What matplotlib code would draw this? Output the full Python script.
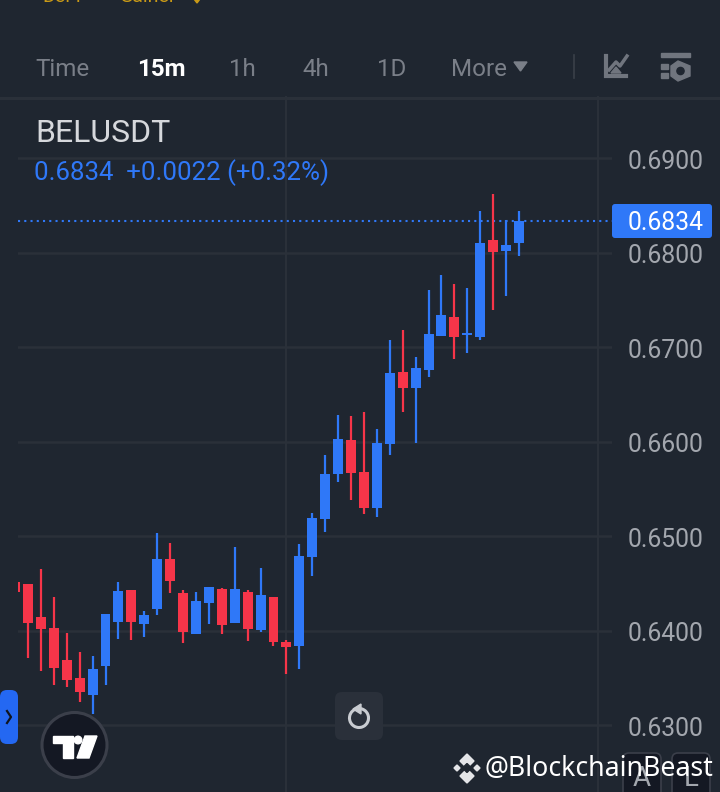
import matplotlib
matplotlib.use("Agg")
import matplotlib.pyplot as plt
from matplotlib.patches import Circle, FancyBboxPatch, Polygon, Rectangle, Arc
from matplotlib.transforms import ScaledTranslation

# chart data (price); first candle is cut by the left edge
opens = [0.64515, 0.64494, 0.64145, 0.64029, 0.63690, 0.63500, 0.63320, 0.63627, 0.64092, 0.64431,
         0.64071, 0.64230, 0.64759, 0.64399, 0.63965, 0.64293, 0.64441, 0.64082, 0.64410, 0.64007,
         0.64357, 0.63881, 0.63838, 0.64780, 0.65182, 0.65658, 0.66018, 0.65679, 0.65298, 0.65976,
         0.66738, 0.66568, 0.66759, 0.67119, 0.67320, 0.67129, 0.67108, 0.68134, 0.68018, 0.68103]
closes = [0.64410, 0.64082, 0.64018, 0.63605, 0.63478, 0.63351, 0.63595, 0.64177, 0.64420, 0.64092,
          0.64166, 0.64759, 0.64526, 0.63986, 0.64314, 0.64462, 0.64060, 0.64441, 0.64018, 0.64378,
          0.63881, 0.63828, 0.64790, 0.65193, 0.65658, 0.66029, 0.65669, 0.65298, 0.65986, 0.66727,
          0.66568, 0.66780, 0.67140, 0.67341, 0.67108, 0.67150, 0.68103, 0.68007, 0.68082, 0.68335]
highs = [0.64515, 0.64494, 0.64653, 0.64357, 0.63976, 0.63775, 0.63732, 0.64177, 0.64515, 0.64431,
         0.64208, 0.65034, 0.64926, 0.64431, 0.64410, 0.64462, 0.64452, 0.64886, 0.64431, 0.64664,
         0.64357, 0.63902, 0.64918, 0.65246, 0.65859, 0.66283, 0.66272, 0.66314, 0.66134, 0.67076,
         0.67182, 0.66896, 0.67605, 0.67764, 0.67669, 0.67627, 0.68441, 0.68621, 0.68346, 0.68441]
lows = [0.64410, 0.63711, 0.63574, 0.63425, 0.63404, 0.63246, 0.63119, 0.63425, 0.63912, 0.63902,
        0.63933, 0.64166, 0.64399, 0.63870, 0.63965, 0.64071, 0.63969, 0.64082, 0.63891, 0.63986,
        0.63838, 0.63542, 0.63595, 0.64579, 0.65045, 0.65574, 0.65383, 0.65235, 0.65203, 0.65859,
        0.66314, 0.65986, 0.66685, 0.67119, 0.66875, 0.66939, 0.67076, 0.67394, 0.67542, 0.67965]
price_ticks = [0.63, 0.64, 0.65, 0.66, 0.67, 0.68, 0.69]
last_price = 0.6834
timeframes = ["Time", "15m", "1h", "4h", "1D", "More"]
symbol = "BELUSDT"
quote_line = "0.6834  +0.0022 (+0.32%)"
handle = "@BlockchainBeast"

BG = "#1f2630"
GRID = "#2a3039"
BLUE = "#2f78f8"
RED = "#f63549"
GREY = "#a3a7ae"
DIM = "#7a7f88"
W, H = 720, 792

plt.rcParams["font.family"] = ["Roboto", "DejaVu Sans"]
fig = plt.figure(figsize=(7.2, 7.92), dpi=100, facecolor=BG)


def box(x0, y0, x1, y1):
    return [x0 / W, 1 - y1 / H, (x1 - x0) / W, (y1 - y0) / H]


# pixel-space layer below the candles for the panel lines
back = fig.add_axes([0, 0, 1, 1], facecolor="none", zorder=0)
back.set_xlim(0, W)
back.set_ylim(H, 0)
back.axis("off")
back.plot([0, W], [97.5, 97.5], color=GRID, lw=2.2)
back.plot([286, 286], [97, 792], color=GRID, lw=1.5)
back.plot([597.5, 597.5], [97, 792], color=GRID, lw=1.5)

ax = fig.add_axes(box(18, 97, 612, 792), facecolor="none", zorder=1)
ax.set_xlim(-0.774, 45.2)
ax.set_ylim(0.622932, 0.696477)
for s in ax.spines.values():
    s.set_visible(False)
ax.set_xticks([])
ax.yaxis.tick_right()
ax.set_yticks(price_ticks)
ax.set_yticklabels([f"{t:.4f}" for t in price_ticks], color=GREY, fontsize=17.8)
ax.tick_params(axis="y", length=0, pad=11.5)
nudge = ScaledTranslation(0, -1 / 100, fig.dpi_scale_trans)
for lab in ax.get_yticklabels():
    lab.set_transform(lab.get_transform() + nudge)
ax.grid(axis="y", color=GRID, lw=1.8, zorder=0)
ax.set_axisbelow(True)

xs = list(range(-1, len(opens) - 1))
cols = [BLUE if c >= o else RED for o, c in zip(opens, closes)]
ax.vlines(xs, lows, highs, colors=cols, lw=1.6, zorder=3)
ax.bar(xs, [abs(c - o) for o, c in zip(opens, closes)], bottom=[min(o, c) for o, c in zip(opens, closes)],
       width=0.77, color=cols, zorder=4)
ax.axhline(last_price, color=BLUE, lw=1.5, ls=(0, (1, 2)), zorder=2)

# overlay in pixel coordinates for the app's interface furniture
ov = fig.add_axes([0, 0, 1, 1], facecolor="none", zorder=2)
ov.set_xlim(0, W)
ov.set_ylim(H, 0)
ov.axis("off")

ov.plot([574, 574], [55, 78], color="#3a4049", lw=1.2)

tf_x = [36, 138, 230, 303, 378, 452]
for label, x in zip(timeframes, tf_x):
    sel = label == "15m"
    ov.text(x - 1, 69, label, color="#ffffff" if sel else DIM, fontsize=17.4,
            fontweight="bold" if sel else "normal", va="center", ha="left")
ov.add_patch(Polygon([(514, 62), (527, 62), (520.5, 71)], color=DIM))

# top clipped labels
ov.text(42, -3, "DeFi", color="#c99a17", fontsize=14, va="center", ha="left")
ov.text(120, -3, "Gainer", color="#c99a17", fontsize=14, va="center", ha="left")
ov.add_patch(Polygon([(194, -1), (200, -1), (197, 3)], color="#c99a17"))

# chart settings icons
ic = "#70757e"
ov.plot([606, 606, 626], [56, 76, 76], color=ic, lw=3, solid_joinstyle="miter")
ov.plot([609, 616, 620, 627], [70, 62, 66, 56], color=ic, lw=2.5)
ov.add_patch(Polygon([(611, 73), (616, 67), (621, 73)], color=ic))
ov.add_patch(Rectangle((661, 53), 29, 4, color=ic))
ov.add_patch(Rectangle((661, 64), 7, 5, color=ic))
ov.add_patch(Rectangle((661, 73), 7, 5, color=ic))
ov.add_patch(Polygon([(678, 61), (690, 66), (690, 76), (678, 81), (671, 76), (671, 66)], color=ic))
ov.add_patch(Circle((680.5, 71), 3.6, color=BG))

ov.text(35.5, 133, symbol, color="#d6d8dc", fontsize=23, va="center", ha="left")
ov.text(34, 173, quote_line, color=BLUE, fontsize=18.6, va="center", ha="left")

# last price flag
ov.add_patch(FancyBboxPatch((612, 204), 100, 34, boxstyle="round,pad=0,rounding_size=3", color=BLUE, lw=0))
ov.text(628, 223, f"{last_price:.4f}", color="#ffffff", fontsize=17.8, va="center", ha="left")

# side tab
ov.add_patch(FancyBboxPatch((0, 690), 18, 54, boxstyle="round,pad=0,rounding_size=7", color="#2468f2", lw=0))
ov.plot([7, 11, 7], [711, 717, 723], color="#10151f", lw=1.6)

# TradingView badge
ov.add_patch(Circle((74.5, 745), 32.5, facecolor="#141823", edgecolor="#3b3f4a", lw=2.2))
ov.add_patch(Polygon([(53, 736), (73, 736), (73, 758), (63, 758), (63, 743), (53, 743)], color="#ffffff"))
ov.add_patch(Circle((78, 740), 3.8, color="#ffffff", zorder=5))
ov.add_patch(Polygon([(85, 736), (97, 736), (89, 758), (77, 758)], color="#ffffff"))

# reset button
ov.add_patch(FancyBboxPatch((335, 692), 48, 48, boxstyle="round,pad=0,rounding_size=7", color="#2a303a", lw=0, zorder=6))
ov.add_patch(Arc((359, 718), 19, 19, theta1=-80, theta2=250, color="#c9ccd1", lw=2.2, zorder=7))
ov.add_patch(Polygon([(361, 704), (361, 714), (353, 709)], color="#c9ccd1", zorder=7))

# A / L buttons
for x0, letter in zip((623, 672), ("A", "L")):
    ov.add_patch(FancyBboxPatch((x0, 753), 38, 50, boxstyle="round,pad=0,rounding_size=6",
                                facecolor="#141823", edgecolor="#3b3f4a", lw=1.2, zorder=6))
    ov.text(x0 + 19, 778, letter, color=GREY, fontsize=20, va="center", ha="center", zorder=7)

# watermark
for cx, cy, r in [(467, 761, 7), (467, 776, 7), (457, 768, 3), (477, 768, 3)]:
    ov.add_patch(Polygon([(cx - r, cy), (cx, cy - r), (cx + r, cy), (cx, cy + r)], color="#e4e5e8", zorder=8))
ov.add_patch(Polygon([(467, 763.5), (471.5, 768), (467, 772.5), (462.5, 768)], color=BG, zorder=8))
ov.text(484, 769, handle, color="#ffffff", fontsize=19.2, family="Noto Sans", va="center", ha="left", zorder=9)

fig.savefig("out.png", dpi=100, facecolor=BG)
